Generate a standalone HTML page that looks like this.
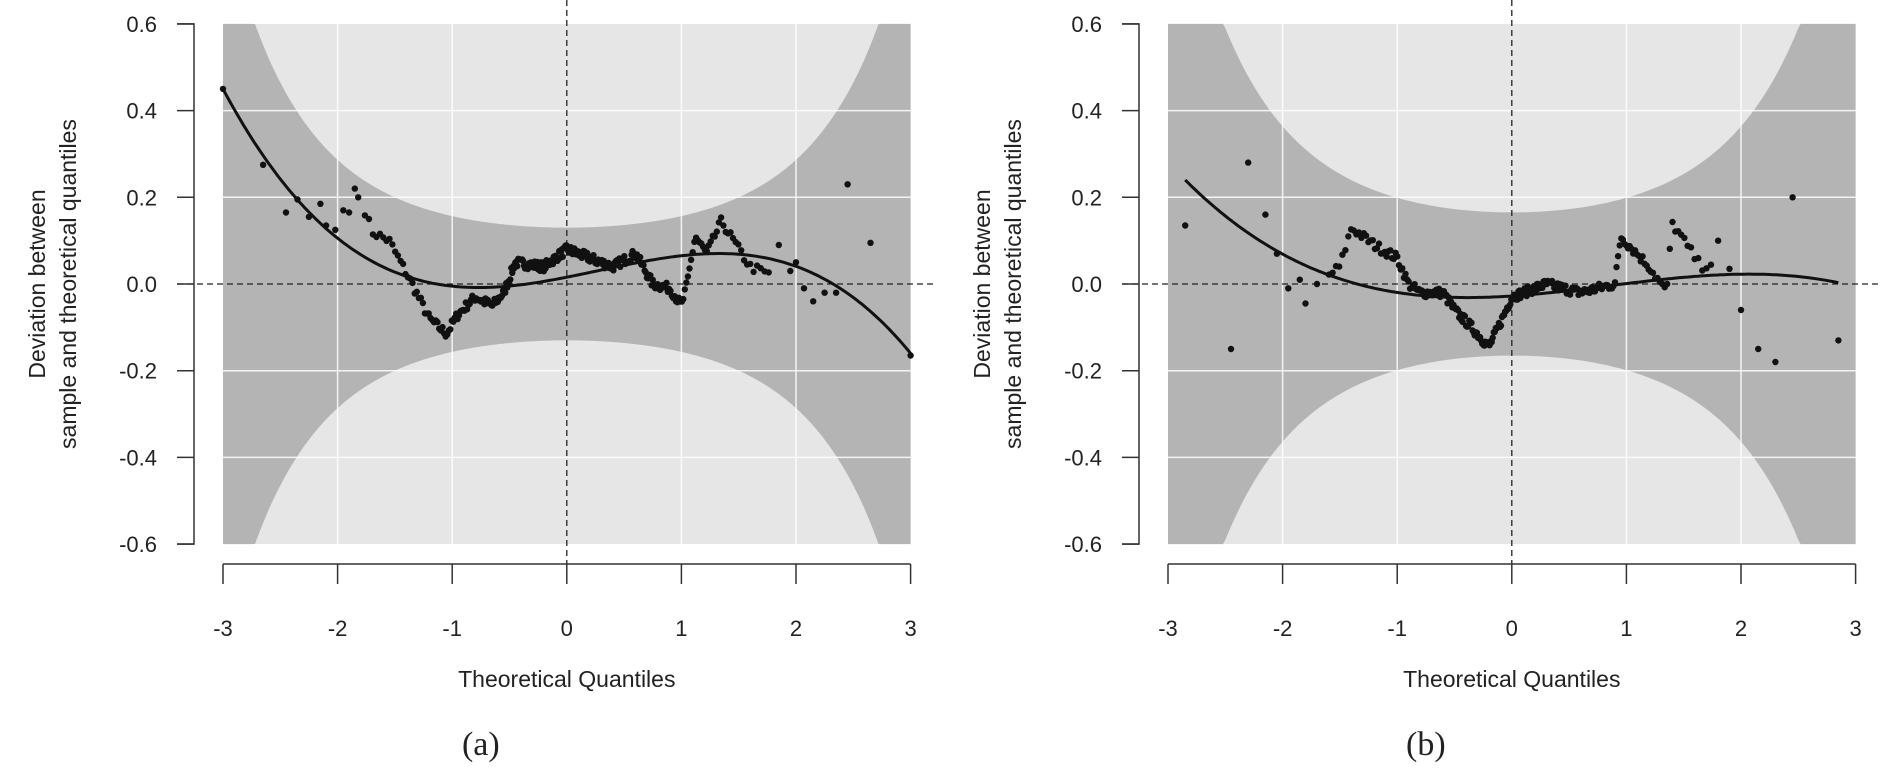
<!DOCTYPE html>
<html><head><meta charset="utf-8"><style>
html,body{margin:0;padding:0;background:#fff}
svg text{font-family:"Liberation Sans",Arial,sans-serif;fill:#222}
</style></head><body>
<svg id="s" width="1890" height="774" viewBox="0 0 1890 774" xmlns="http://www.w3.org/2000/svg"></svg>
<script>
var S=document.getElementById('s'),out='';
var seed=7;function rnd(){seed=(seed*16807)%2147483647;return seed/2147483647;}
function phi(x){return Math.exp(-x*x/2)/Math.sqrt(2*Math.PI);}
function Phi(x){var t=1/(1+0.2316419*Math.abs(x));var d=phi(x);var p=d*t*(0.319381530+t*(-0.356563782+t*(1.781477937+t*(-1.821255978+t*1.330274429))));return x>0?1-p:p;}
function qn(p){var lo=-6,hi=6;for(var i=0;i<60;i++){var m=(lo+hi)/2;if(Phi(m)<p)lo=m;else hi=m;}return (lo+hi)/2;}
function interp(k,x){for(var i=0;i<k.length-1;i++){if(x>=k[i][0]&&x<=k[i+1][0]){var t=(x-k[i][0])/(k[i+1][0]-k[i][0]);return k[i][1]+t*(k[i+1][1]-k[i][1]);}}return k[k.length-1][1];}
function panel(o){
 var X=function(v){return o.x0+(v+3)*114.6;},Y=function(v){return 284-v*433.5;};
 var L=X(-3),R=X(3);
 out+='<rect x="'+L+'" y="24" width="'+(R-L)+'" height="520" fill="#e6e6e6"/>';
 // band
 var up=[],dn=[];
 for(var i=0;i<=300;i++){var x=-3+6*i/300;var p=Phi(x);var b=o.c*Math.sqrt(p*(1-p))/phi(x);b=Math.min(b,0.6);up.push(X(x).toFixed(1)+','+Y(b).toFixed(1));dn.unshift(X(x).toFixed(1)+','+Y(-b).toFixed(1));}
 out+='<polygon points="'+up.join(' ')+' '+dn.join(' ')+'" fill="#b4b4b4"/>';
 // grid
 [-2,-1,1,2].forEach(function(v){out+='<line x1="'+X(v)+'" x2="'+X(v)+'" y1="24" y2="544" stroke="#fff" stroke-width="1.5" opacity="0.85"/>';});
 [0.4,0.2,-0.2,-0.4].forEach(function(v){out+='<line x1="'+L+'" x2="'+R+'" y1="'+Y(v)+'" y2="'+Y(v)+'" stroke="#fff" stroke-width="1.5" opacity="0.85"/>';});
 // dashed refs
 out+='<line x1="'+X(0)+'" x2="'+X(0)+'" y1="0" y2="564" stroke="#222" stroke-width="1.3" stroke-dasharray="6,4"/>';
 out+='<line x1="'+(o.ax-17)+'" x2="'+(R+25)+'" y1="284" y2="284" stroke="#222" stroke-width="1.3" stroke-dasharray="6,4"/>';
 // axes
 out+='<path d="M'+(o.ax-17)+',24H'+o.ax+'V544H'+(o.ax-17)+'" fill="none" stroke="#333" stroke-width="1.5"/>';
 [0.6,0.4,0.2,0,-0.2,-0.4,-0.6].forEach(function(v){out+='<line x1="'+(o.ax-17)+'" x2="'+o.ax+'" y1="'+Y(v)+'" y2="'+Y(v)+'" stroke="#333" stroke-width="1.5"/>';out+='<text x="'+(o.ax-37)+'" y="'+(Y(v)+8)+'" font-size="22" text-anchor="end">'+v.toFixed(1)+'</text>';});
 out+='<line x1="'+L+'" x2="'+R+'" y1="564" y2="564" stroke="#333" stroke-width="1.5"/>';
 [-3,-2,-1,0,1,2,3].forEach(function(v){out+='<line x1="'+X(v)+'" x2="'+X(v)+'" y1="564" y2="584" stroke="#333" stroke-width="1.5"/>';out+='<text x="'+X(v)+'" y="636" font-size="22" text-anchor="middle">'+v+'</text>';});
 out+='<text x="'+X(0)+'" y="687" font-size="23" text-anchor="middle">Theoretical Quantiles</text>';
 out+='<text transform="translate('+(o.ax-149)+',284) rotate(-90)" font-size="23" text-anchor="middle">Deviation between</text>';
 out+='<text transform="translate('+(o.ax-118)+',284) rotate(-90)" font-size="23" text-anchor="middle">sample and theoretical quantiles</text>';
 out+='<text x="'+X(-0.75)+'" y="755" font-size="34" text-anchor="middle" style="font-family:\'Liberation Serif\',serif">'+o.cap+'</text>';
 // curve
 var cp=[];for(var i=0;i<=200;i++){var x=o.cr[0]+(o.cr[1]-o.cr[0])*i/200;cp.push(X(x).toFixed(1)+','+Y(interpC(o.ck,x)).toFixed(1));}
 out+='<polyline points="'+cp.join(' ')+'" fill="none" stroke="#111" stroke-width="3"/>';
 // points
 var pts=o.tail.slice();
 var n=o.n;for(var i=1;i<=n;i++){var x=qn((i-0.5)/n);if(x<o.qr[0]||x>o.qr[1])continue;pts.push([x,interp(o.k,x)+(rnd()-0.5)*0.022]);}
 pts.forEach(function(p){out+='<circle cx="'+X(p[0]).toFixed(1)+'" cy="'+Y(p[1]).toFixed(1)+'" r="3.2" fill="#111"/>';});
}
function interpC(k,x){ // Lagrange through 4 points
 var s=0;for(var i=0;i<k.length;i++){var t=k[i][1];for(var j=0;j<k.length;j++)if(j!=i)t*=(x-k[j][0])/(k[i][0]-k[j][0]);s+=t;}return s;}
panel({x0:223,ax:194,c:0.1037,cap:'(a)',n:320,qr:[-1.78,1.78],
 ck:[[-3,0.45],[-1,-0.005],[1.4,0.07],[3,-0.16]],cr:[-3,3],
 k:[[-1.8,0.2],[-1.7,0.12],[-1.55,0.1],[-1.45,0.05],[-1.35,0.0],[-1.2,-0.08],[-1.05,-0.115],[-0.95,-0.07],[-0.8,-0.03],[-0.65,-0.05],[-0.55,-0.02],[-0.45,0.05],[-0.2,0.04],[0,0.08],[0.2,0.06],[0.4,0.04],[0.6,0.07],[0.75,0.0],[0.9,-0.01],[1.0,-0.05],[1.05,0.0],[1.12,0.11],[1.22,0.07],[1.35,0.145],[1.5,0.08],[1.6,0.04],[1.78,0.02]],
 tail:[[-3,0.45],[-2.65,0.275],[-2.45,0.165],[-2.35,0.195],[-2.25,0.155],[-2.15,0.185],[-2.1,0.135],[-2.02,0.125],[-1.95,0.17],[-1.9,0.165],[-1.85,0.22],[-1.82,0.2],[1.85,0.09],[1.95,0.03],[2.0,0.05],[2.07,-0.01],[2.15,-0.04],[2.25,-0.02],[2.35,-0.02],[2.45,0.23],[2.65,0.095],[3,-0.165]]});
panel({x0:1168,ax:1139,c:0.1317,cap:'(b)',n:280,qr:[-1.6,1.75],
 ck:[[-2.85,0.24],[-0.6,-0.03],[1.9,0.022],[2.85,0.003]],cr:[-2.85,2.85],
 k:[[-1.6,0.02],[-1.5,0.04],[-1.4,0.13],[-1.2,0.09],[-1.0,0.06],[-0.9,0.0],[-0.8,-0.02],[-0.6,-0.02],[-0.5,-0.06],[-0.35,-0.1],[-0.2,-0.145],[-0.1,-0.09],[0,-0.03],[0.3,0.0],[0.6,-0.02],[0.9,0.0],[0.95,0.11],[1.2,0.04],[1.35,-0.02],[1.4,0.14],[1.55,0.08],[1.65,0.04],[1.75,0.05]],
 tail:[[-2.85,0.135],[-2.45,-0.15],[-2.3,0.28],[-2.15,0.16],[-2.05,0.07],[-1.95,-0.01],[-1.85,0.01],[-1.8,-0.045],[-1.7,0.0],[1.8,0.1],[1.9,0.035],[2.0,-0.06],[2.15,-0.15],[2.3,-0.18],[2.45,0.2],[2.85,-0.13]]});
S.innerHTML=out;
</script>
</body></html>
